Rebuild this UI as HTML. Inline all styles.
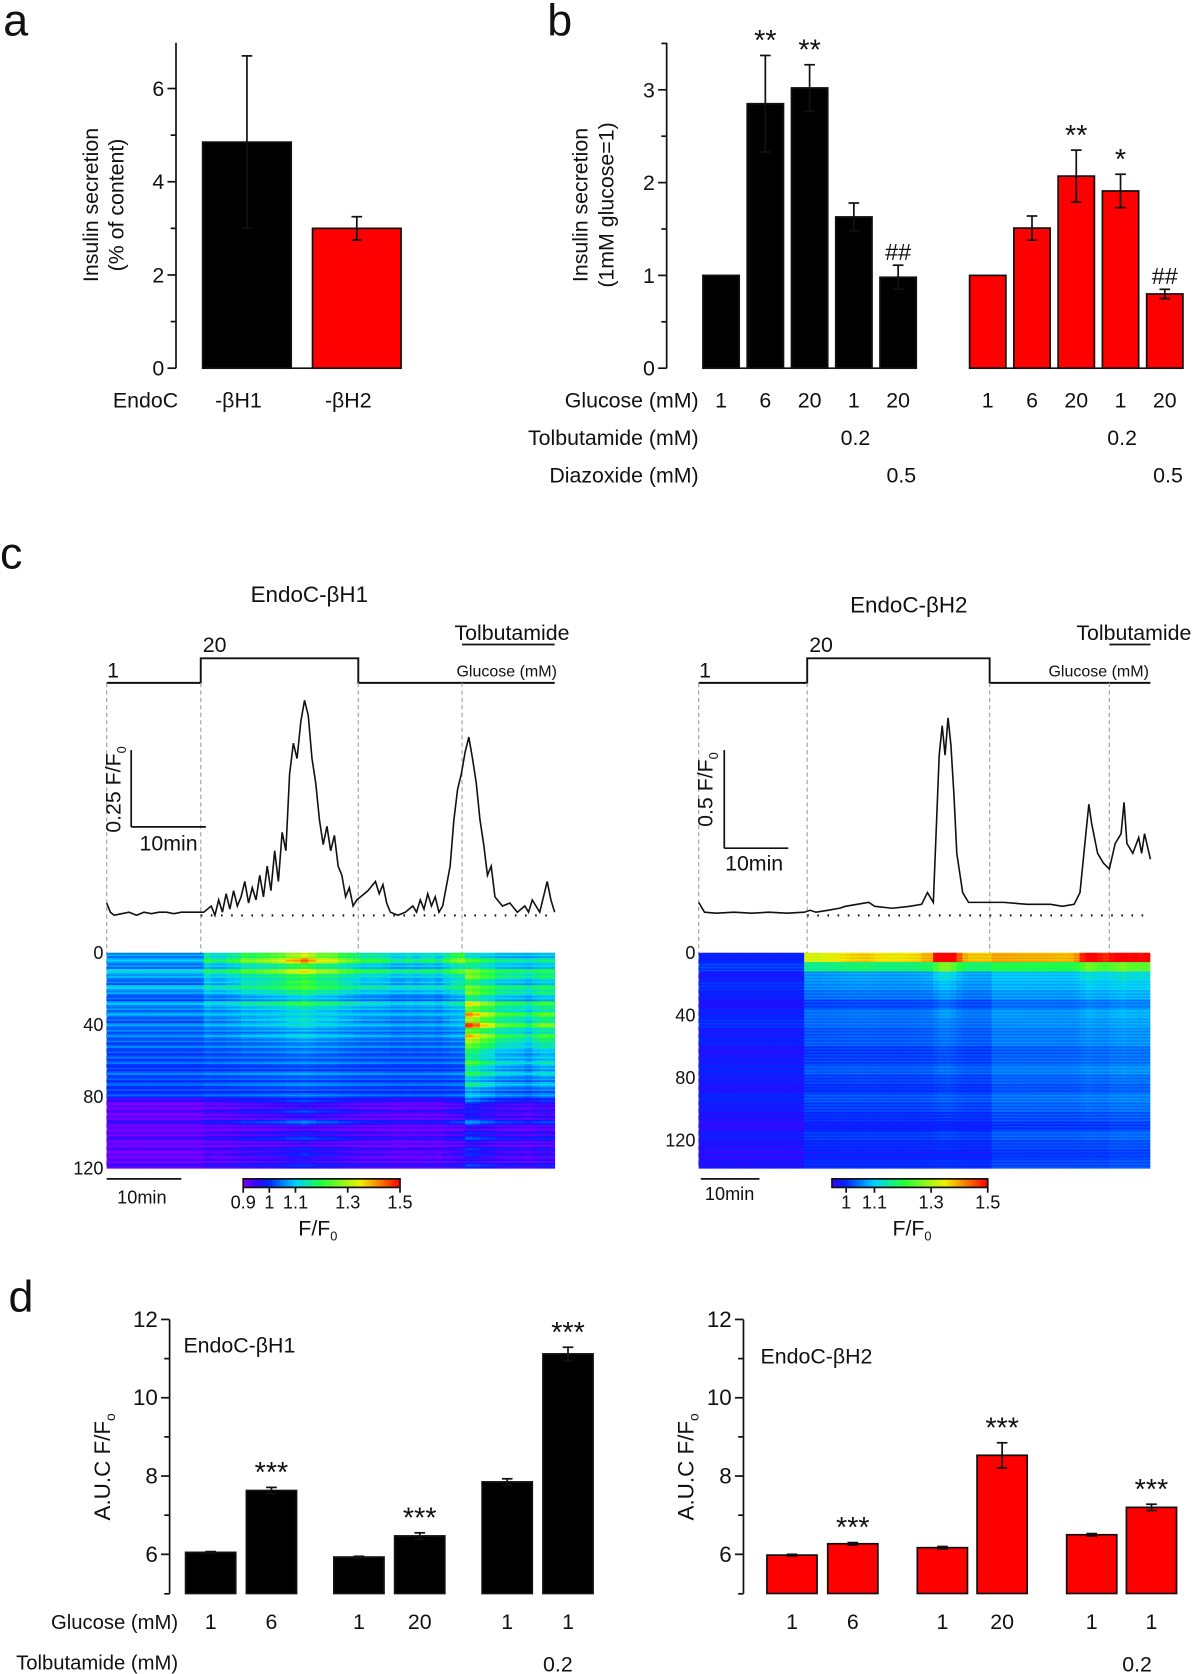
<!DOCTYPE html>
<html><head><meta charset="utf-8"><style>
html,body{margin:0;padding:0;background:#fff}
svg{display:block}
text{font-family:"Liberation Sans",Arial,sans-serif;fill:#111}
</style></head><body>
<svg id="fig" width="1200" height="1674" viewBox="0 0 1125 1569" xmlns="http://www.w3.org/2000/svg">
<g id="static">
<text x="3" y="33" font-size="42">a</text>
<text x="513" y="33" font-size="42">b</text>
<text x="0" y="533" font-size="42">c</text>
<text x="8" y="1230" font-size="42">d</text>
<text transform="translate(92,192) rotate(-90)" text-anchor="middle" font-size="20">Insulin secretion</text>
<text transform="translate(116,192) rotate(-90)" text-anchor="middle" font-size="20">(% of content)</text>
<text transform="translate(551,192) rotate(-90)" text-anchor="middle" font-size="20">Insulin secretion</text>
<text transform="translate(575,192) rotate(-90)" text-anchor="middle" font-size="20">(1mM glucose=1)</text>
<text x="167" y="382" text-anchor="end" font-size="20">EndoC</text>
<text x="655" y="382" text-anchor="end" font-size="20">Glucose (mM)</text>
<text x="655" y="417" text-anchor="end" font-size="20">Tolbutamide (mM)</text>
<text x="655" y="452" text-anchor="end" font-size="20">Diazoxide (mM)</text>
<text x="802" y="417" text-anchor="middle" font-size="20">0.2</text>
<text x="1052" y="417" text-anchor="middle" font-size="20">0.2</text>
<text x="845" y="452" text-anchor="middle" font-size="20">0.5</text>
<text x="1095" y="452" text-anchor="middle" font-size="20">0.5</text>
<text x="290" y="564" text-anchor="middle" font-size="21">EndoC-βH1</text>
<text x="852" y="574" text-anchor="middle" font-size="21">EndoC-βH2</text>
<text transform="translate(103,1375) rotate(-90)" text-anchor="middle" font-size="21">A.U.C F/F<tspan font-size="13" dy="5">o</tspan></text>
<text transform="translate(650,1375) rotate(-90)" text-anchor="middle" font-size="21">A.U.C F/F<tspan font-size="13" dy="5">o</tspan></text>
<text x="172" y="1268" font-size="20">EndoC-βH1</text>
<text x="713" y="1278" font-size="20">EndoC-βH2</text>
<text x="167" y="1527" text-anchor="end" font-size="19">Glucose (mM)</text>
<text x="167" y="1565" text-anchor="end" font-size="19">Tolbutamide (mM)</text>
<text x="523" y="1567" text-anchor="middle" font-size="20">0.2</text>
<text x="1066" y="1567" text-anchor="middle" font-size="20">0.2</text>
</g>
</svg>
<script>
// ---------- data ----------
const aCats = ['-βH1','-βH2'];
const aVals = [4.85, 3.0];
const aErrs = [1.85, 0.25];
const aTicks = [0,2,4,6];

const bCats = ['1','6','20','1','20'];
const bBlack = [1.0, 2.85, 3.02, 1.63, 0.98];
const bBlackErr = [0, 0.52, 0.25, 0.15, 0.13];
const bBlackSig = ['', '**', '**', '', '##'];
const bRed = [1.0, 1.51, 2.07, 1.91, 0.8];
const bRedErr = [0, 0.13, 0.28, 0.18, 0.05];
const bRedSig = ['', '', '**', '*', '##'];
const bTicks = [0,1,2,3];

const dCats = ['1','6','1','20','1','1'];
const dBlack = [6.05, 7.63, 5.93, 6.47, 7.85, 11.12];
const dBlackErr = [0.02, 0.08, 0.02, 0.08, 0.08, 0.17];
const dBlackSig = ['', '***', '', '***', '', '***'];
const dRed = [5.98, 6.27, 6.17, 8.53, 6.5, 7.2];
const dRedErr = [0.02, 0.03, 0.03, 0.32, 0.03, 0.08];
const dRedSig = ['', '***', '', '***', '', '***'];
const dTicks = [6,8,10,12];

// traces (time in min, F/F0)
const tL = [0,0.5,1,2,3,4,5,6,7,8,9,10,11,12,13,14,14.5,15,15.5,16,16.5,17,17.5,18,18.5,19,19.5,20,20.5,21,21.5,22,22.5,23,23.5,24,24.5,25,25.5,26,26.5,27,27.5,28,28.5,29,29.5,30,30.5,31,31.5,32,32.5,33,33.5,34,35,36,36.5,37,37.5,38,39,40,41,41.5,42,42.5,43,43.5,44,44.5,45,46,46.5,47,47.5,48,48.5,49,49.5,50,50.5,51,51.5,52,53,54,55,56,56.5,57,58,59,59.5,60];
const vL = [1.03,1.0,0.99,0.995,1.0,0.99,1.0,0.995,1.0,1.0,0.995,1.0,1.0,1.0,1.0,1.02,0.99,1.04,1.0,1.06,1.01,1.07,1.02,1.05,1.1,1.03,1.08,1.04,1.12,1.05,1.15,1.07,1.2,1.1,1.26,1.2,1.45,1.55,1.5,1.62,1.69,1.64,1.5,1.42,1.3,1.22,1.28,1.2,1.25,1.15,1.12,1.05,1.08,1.02,1.04,1.05,1.07,1.1,1.06,1.09,1.03,1.0,0.99,1.0,1.02,1.0,1.04,1.01,1.06,1.02,1.05,1.0,1.02,1.15,1.3,1.4,1.45,1.52,1.57,1.5,1.42,1.3,1.22,1.12,1.15,1.05,1.02,1.03,1.0,1.02,1.0,1.04,1.0,1.1,1.04,1.0];
const tR = [0,1,3,6,9,12,15,18,19,20,22,24,25,27,29,30,33,36,38,39,40,41,41.5,42,42.5,43,43.5,44,45,46,48,52,56,60,62,64,65,66,66.5,67,68,69,70,71,72,72.5,73,74,75,75.5,76,77];
const vR = [1.05,1.0,0.995,1.0,0.995,1.0,0.995,1.0,1.01,1.0,1.01,1.02,1.03,1.04,1.05,1.03,1.02,1.03,1.04,1.1,1.05,1.8,1.95,1.8,1.99,1.85,1.6,1.3,1.1,1.05,1.05,1.05,1.04,1.04,1.03,1.04,1.1,1.4,1.55,1.45,1.3,1.25,1.22,1.35,1.4,1.56,1.35,1.3,1.38,1.3,1.4,1.27];
const protoTL = [0,12.6,33.7,47.6,60];
const protoGL = [1,20,1,1];
const protoTR = [0,18.5,49.6,70,77];
const protoGR = [1,20,1,1];

// heatmap row data (groups of rows)
const hmBaseL = [1.05,1.08,1.04,1.1,1.06,1.03,1.09,1.05,1.02,1.07,1.04,1.06,1.02,1.05,1.03,1.04,1.02,1.03,1.01,1.02,1.02,1.0,1.03,1.01,1.02,1.0,1.01,0.93,0.9,0.92,0.9,0.94,0.9,0.91,0.93,0.9,0.92,0.9,0.91,0.93];
const hmResp20L = [0.2,0.25,0.12,0.18,0.1,0.14,0.1,0.08,0.06,0.1,0.06,0.04,0.08,0.05,0.03,0.05,0.03,0.02,0.03,0.01,0.02,0.01,0.02,0.01,0.02,0.01,0.02,0.05,0.03,0.06,0.03,0.07,0.02,0.04,0.05,0.02,0.04,0.06,0.03,0.04];
const hmRespTolbL = [0.05,0.1,0.08,0.12,0.15,0.1,0.12,0.15,0.1,0.2,0.15,0.25,0.2,0.3,0.15,0.25,0.2,0.15,0.12,0.1,0.15,0.1,0.12,0.06,0.1,0.05,0.06,0.08,0.05,0.04,0.05,0.08,0.03,0.05,0.06,0.03,0.05,0.06,0.03,0.05];
const hmBaseR = [1.0,1.02,0.99,1.01,1.0,0.98,1.0,1.01,0.99,1.0,0.98,0.99,1.0,0.99,0.98,1.0,0.99,0.98,0.97,0.99,0.98,0.97,0.98];
const hmRespR = [0.5,0.2,0.1,0.06,0.05,0.04,0.05,0.03,0.04,0.03,0.03,0.02,0.03,0.02,0.02,0.02,0.02,0.015,0.01,0.015,0.01,0.01,0.01];
const hmPhaseOffR = [-0.02, 0.0, 0.02, 0.025];
const hmRowTicksL = [0,40,80,120];
const hmRowTicksR = [0,40,80,120];
const cbTicksL = ['0.9','1','1.1','1.3','1.5'];
const cbTicksR = ['1','1.1','1.3','1.5'];

// ---------- helpers ----------
const NS='http://www.w3.org/2000/svg';
const svg=document.getElementById('fig');
function mk(tag, attrs, parent){const e=document.createElementNS(NS,tag);for(const k in attrs)e.setAttribute(k,attrs[k]);(parent||svg).appendChild(e);return e;}
function line(x1,y1,x2,y2,name,extra){const e=mk('line',Object.assign({x1,y1,x2,y2,stroke:'#111','stroke-width':1.6},extra||{}));

return e;}
function txt(x,y,s,size,anchor,name){const e=mk('text',{x,y,'font-size':size,'text-anchor':anchor||'middle'});e.textContent=s;

return e;}

function yAxis(x,ytop,ybot,ticks,scale,minor,name,fs){
  line(x,ytop,x,ybot,name+'-line');
  ticks.forEach(v=>{const y=scale(v);line(x-8,y,x,y,name+'-tick');txt(x-11,y+7,String(v),fs||20,'end',name+'-tick-label');});
  minor.forEach(v=>{const y=scale(v);line(x-5,y,x,y,name+'-minor-tick');});
}
function bar(x,w,v,err,base,scale,fill,name){
  const y=scale(v),yb=scale(base);
  const r=mk('rect',{x,y,width:w,height:yb-y,fill,stroke:'#111','stroke-width':1.6});
  
  
  if(err>0){const cx=x+w/2;line(cx,scale(v+err),cx,scale(v-err),name+'-error');line(cx-5,scale(v+err),cx+5,scale(v+err),name+'-error-cap');line(cx-5,scale(v-err),cx+5,scale(v-err),name+'-error-cap');}
}

// ---------- panel a ----------
const ya=v=>345-v*43.7;
yAxis(165,40,345,aTicks,ya,[1,3,5],'a-y-axis');
const aX=[190,293], aW=83;
aVals.forEach((v,i)=>{bar(aX[i],aW,v,aErrs[i],0,ya,i?'#ff0000':'#000','a-bar-'+i);txt(aX[i]+aW/2-8,382,aCats[i],20,'middle','a-x-label');});
line(273,345,293,345,'a-baseline');

// ---------- panel b ----------
const yb=v=>345-v*87;
yAxis(625,40,345,bTicks,yb,[0.5,1.5,2.5,3.5],'b-y-axis');
const bW=34,bStep=41.5,bX0=659,bX1=909;
function bGroup(x0,vals,errs,sig,fill,nm){
  vals.forEach((v,i)=>{const x=x0+i*bStep;bar(x,bW,v,errs[i],0,yb,fill,nm+'-bar-'+i);
    if(sig[i])txt(x+bW/2,yb(v+errs[i])-5,sig[i],sig[i][0]==='#'?22:27,'middle',nm+'-sig');
    txt(x+bW/2,382,bCats[i],20,'middle',nm+'-x-label');});
  line(x0,345,x0+4*bStep+bW,345,nm+'-baseline');
}
bGroup(bX0,bBlack,bBlackErr,bBlackSig,'#000','b-black');
bGroup(bX1,bRed,bRedErr,bRedSig,'#ff0000','b-red');

// ---------- panel c traces ----------
function trace(x0,pxMin,pxUnit,ts,vs,protoT,protoG,opts){
  const X=t=>x0+t*pxMin, Y=v=>855-(v-1)*pxUnit;
  let d='';protoG.forEach((g,i)=>{const y=g>1?opts.pHigh:opts.pLow;d+=(i?'L':'M')+X(protoT[i])+','+y+'L'+X(protoT[i+1])+','+y;});
  const p=mk('path',{d,fill:'none',stroke:'#111','stroke-width':1.8});
  
  
  protoT.slice(0,4).forEach(t=>line(X(t),opts.pLow,X(t),1095,opts.nm+'-phase-divider',{stroke:'#aaa','stroke-width':1.2,'stroke-dasharray':'4,3'}));
  line(X(protoT[1]),858,X(protoT[4]),858,opts.nm+'-baseline-dotted',{'stroke-dasharray':'1.5,8','stroke-width':2});
  let td='';ts.forEach((t,i)=>{td+=(i?'L':'M')+X(t).toFixed(1)+','+Y(vs[i]).toFixed(1);});
  const tp=mk('path',{d:td,fill:'none',stroke:'#111','stroke-width':1.5});
  
  
  txt(X(0)+6,opts.pLow-5,'1',20,'middle',opts.nm+'-glucose-1');
  txt(X(protoT[1])+13,opts.pHigh-6,'20',20,'middle',opts.nm+'-glucose-20');
  txt(opts.tolbX,opts.pHigh-17,'Tolbutamide',20,'middle',opts.nm+'-tolbutamide-label');
  line(X(protoT[3]),opts.pHigh-13,X(protoT[4]),opts.pHigh-13,opts.nm+'-tolbutamide-bar');
  txt(opts.glX,opts.pLow-6,'Glucose (mM)',15,'middle',opts.nm+'-glucose-label');
  return {X,Y};
}
trace(100,7,288,tL,vL,protoTL,protoGL,{nm:'c-left',pLow:640,pHigh:617,tolbX:480,glX:475});
trace(655,5.5,184,tR,vR,protoTR,protoGR,{nm:'c-right',pLow:640,pHigh:617,tolbX:1063,glX:1030});
line(123,703,123,775,'c-left-scale-v');line(123,775,193,775,'c-left-scale-h');
txt(158,797,'10min',20,'middle','c-left-scale-time');
(function(){const e=mk('text',{transform:'translate(113,740) rotate(-90)','text-anchor':'middle','font-size':20});e.innerHTML='0.25 F/F<tspan font-size="12" dy="5">0</tspan>';

})();
line(679,703,679,795,'c-right-scale-v');line(679,795,739,795,'c-right-scale-h');
txt(707,816,'10min',20,'middle','c-right-scale-time');
(function(){const e=mk('text',{transform:'translate(668,740) rotate(-90)','text-anchor':'middle','font-size':20});e.innerHTML='0.5 F/F<tspan font-size="12" dy="5">0</tspan>';

})();

// ---------- colormap ----------
const cmStops=[[0.9,[127,0,255]],[0.96,[40,10,255]],[1.0,[0,40,255]],[1.1,[0,210,255]],[1.2,[30,255,60]],[1.35,[240,240,0]],[1.5,[255,0,0]]];
function cmap(v){if(v<=cmStops[0][0])return 'rgb('+cmStops[0][1]+')';
  for(let i=1;i<cmStops.length;i++){if(v<=cmStops[i][0]){const a=cmStops[i-1],b=cmStops[i],f=(v-a[0])/(b[0]-a[0]);return 'rgb('+a[1].map((c,k)=>Math.round(c+(b[1][k]-c)*f)).join(',')+')';}}
  return 'rgb(255,0,0)';}
function interp(ts,vs,t){if(t<=ts[0])return vs[0];for(let i=1;i<ts.length;i++)if(t<=ts[i]){const f=(t-ts[i-1])/(ts[i]-ts[i-1]);return vs[i-1]+(vs[i]-vs[i-1])*f;}return vs[vs.length-1];}

function heatmap(nm,x0,y0,w,h,nCols,nRows,valFn){
  const g=mk('g',{});
  
  
  const cw=w/nCols,rh=h/nRows;
  for(let r=0;r<nRows;r++){for(let c=0;c<nCols;c++){
    mk('rect',{x:(x0+c*cw).toFixed(2),y:(y0+r*rh).toFixed(2),width:(cw+0.4).toFixed(2),height:(rh+0.4).toFixed(2),fill:cmap(valFn(r,c+0.5))},g);
  }}
}
heatmap('c-left-heatmap',100,893,420,202,60,120,(r,t)=>{
  const g=Math.floor(r/3);let v=hmBaseL[g]+(r%3===1?0.03:0)-(r%3===2?0.015:0);
  const p=Math.sqrt(Math.max(0,(interp(tL,vL,t)-1)/0.65));
  if(t>=protoTL[1]&&t<protoTL[2])v+=hmResp20L[g]*(0.3+p);
  else if(t>=protoTL[2]&&t<protoTL[3])v+=hmResp20L[g]*0.6*(0.4+p);
  else if(t>=protoTL[3])v+=hmRespTolbL[g]*(0.4+p);
  return v;});
heatmap('c-right-heatmap',655,893,423,202,77,138,(r,t)=>{
  const g=Math.min(hmBaseR.length-1,Math.floor(r/6));let v=hmBaseR[g]+(r%2?0.02:0);
  const p=Math.sqrt(Math.max(0,(interp(tR,vR,t)-1)/1.0));
  let ph=0;for(let i=1;i<4;i++)if(t>=protoTR[i])ph=i;
  v+=hmPhaseOffR[ph]+(ph>0?hmRespR[g]*(0.6+0.6*p):0);
  return v;});
hmRowTicksL.forEach(v=>txt(97,893+v*202/120+6,String(v),17,'end','c-left-row-label'));
hmRowTicksR.forEach(v=>txt(652,893+v*202/138+6,String(v),17,'end','c-right-row-label'));
function colorbar(nm,x0,x1,vmin,ticks){
  const n=60,w=(x1-x0)/n;
  for(let i=0;i<n;i++){const v=vmin+(1.5-vmin)*(i+0.5)/n;const r=mk('rect',{x:x0+i*w,y:1105,width:w+0.4,height:8,fill:cmap(v)});
    
    }
  const fr=mk('rect',{x:x0,y:1105,width:x1-x0,height:8,fill:'none',stroke:'#111','stroke-width':1.6});
  
  
  ticks.forEach(s=>{const x=x0+(parseFloat(s)-vmin)/(1.5-vmin)*(x1-x0);line(x,1113,x,1118,nm+'-tick');txt(x,1133,s,17,'middle',nm+'-tick-label');});
}
colorbar('c-left-colorbar',228,375,0.9,cbTicksL);
colorbar('c-right-colorbar',780,926,0.95,cbTicksR);
(function(){[[298,1158,'c-left-colorbar-title'],[855,1158,'c-right-colorbar-title']].forEach(a=>{const e=mk('text',{x:a[0],y:a[1],'text-anchor':'middle','font-size':20});e.innerHTML='F/F<tspan font-size="12" dy="5">0</tspan>';

});})();
line(100,1105,170,1105,'c-left-time-scale');txt(133,1128,'10min',17,'middle','c-left-time-scale-label');
line(657,1105,712,1105,'c-right-time-scale');txt(684,1125,'10min',17,'middle','c-right-time-scale-label');

// ---------- panel d ----------
const yd=v=>1457-(v-6)*36.7;
function dPanel(nm,ax,xs,vals,errs,sig,fill){
  yAxis(ax,1237,1494,dTicks,yd,[7,9,11],nm+'-y-axis',21);
  line(ax-5,1494,ax,1494,nm+'-y-min-tick');
  vals.forEach((v,i)=>{const x=xs[i];const w=47;bar(x,w,v,errs[i],5,yd,fill,nm+'-bar-'+i);
    if(sig[i])txt(x+w/2,yd(v+errs[i])-5,sig[i],27,'middle',nm+'-sig');
    txt(x+w/2,1527,dCats[i],20,'middle',nm+'-x-label');});
}
dPanel('d-left',159,[174,231,313,370,452,509],dBlack,dBlackErr,dBlackSig,'#000');
dPanel('d-right',697,[719,776,860,916,1000,1056],dRed,dRedErr,dRedSig,'#ff0000');
</script>
</body></html>
